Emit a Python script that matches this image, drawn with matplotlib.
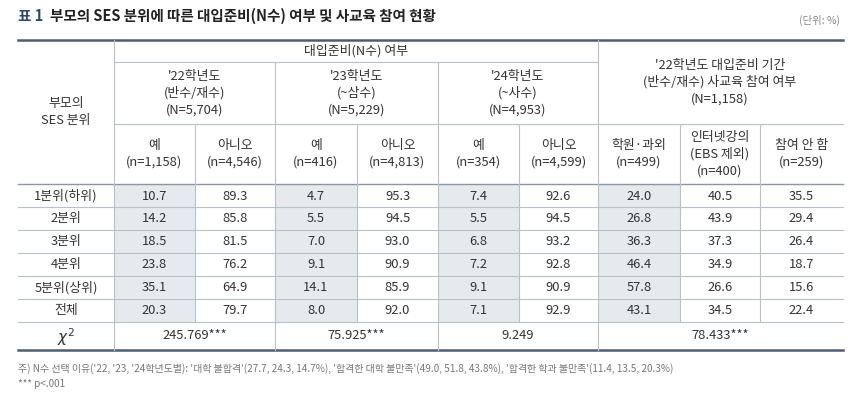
import matplotlib
matplotlib.use("Agg")
import matplotlib.pyplot as plt
from matplotlib.patches import Rectangle

plt.rcParams["font.family"] = ["Noto Sans CJK KR", "Noto Sans CJK JP", "Noto Sans CJK SC", "DejaVu Sans"]

row_labels = ["1분위(하위)", "2분위", "3분위", "4분위", "5분위(상위)", "전체"]
y22_yes = [10.7, 14.2, 18.5, 23.8, 35.1, 20.3]
y22_no = [89.3, 85.8, 81.5, 76.2, 64.9, 79.7]
y23_yes = [4.7, 5.5, 7.0, 9.1, 14.1, 8.0]
y23_no = [95.3, 94.5, 93.0, 90.9, 85.9, 92.0]
y24_yes = [7.4, 5.5, 6.8, 7.2, 9.1, 7.1]
y24_no = [92.6, 94.5, 93.2, 92.8, 90.9, 92.9]
academy = [24.0, 26.8, 36.3, 46.4, 57.8, 43.1]
internet = [40.5, 43.9, 37.3, 34.9, 26.6, 34.5]
none_ = [35.5, 29.4, 26.4, 18.7, 15.6, 22.4]
chi2 = ["245.769***", "75.925***", "9.249", "78.433***"]
sub_headers = ["예\n(n=1,158)", "아니오\n(n=4,546)", "예\n(n=416)", "아니오\n(n=4,813)",
               "예\n(n=354)", "아니오\n(n=4,599)", "학원·과외\n(n=499)",
               "인터넷강의\n(EBS 제외)\n(n=400)", "참여 안 함\n(n=259)"]
year_headers = ["'22학년도\n(반수/재수)\n(N=5,704)", "'23학년도\n(~삼수)\n(N=5,229)",
                "'24학년도\n(~사수)\n(N=4,953)"]

fig = plt.figure(figsize=(8.6, 4.03), dpi=100)
ax = fig.add_axes([0, 0, 1, 1])
ax.set_xlim(0, 860); ax.set_ylim(403, 0); ax.axis("off")

xs = [18, 114, 195, 275, 357, 438, 519, 598, 680, 760, 843]
ys = [185, 207, 230, 253, 276, 299, 322, 349]
line_c = "#b8c0c8"; txt = "#333333"; fs = 9.3
shade = "#e6e9ee"

cols = [y22_yes, y22_no, y23_yes, y23_no, y24_yes, y24_no, academy, internet, none_]
for ci in [0, 2, 4, 6]:
    ax.add_patch(Rectangle((xs[ci+1], ys[0]), xs[ci+2]-xs[ci+1], ys[6]-ys[0], color=shade, lw=0, zorder=0))

ax.text(18, 16, "표 1", fontsize=10.5, fontweight="bold", color="#2d4a6a", va="center")
ax.text(50, 16, "부모의 SES 분위에 따른 대입준비(N수) 여부 및 사교육 참여 현황", fontsize=10.5,
        fontweight="bold", color="#222222", va="center")
ax.text(840, 20, "(단위: %)", fontsize=7.5, color="#888888", va="center", ha="right")

ax.plot([18, 843], [40, 40], color="#4d5e6e", lw=1.8)
ax.plot([18, 843], [350, 350], color="#4d5e6e", lw=1.8)
ax.plot([114, 598], [62, 62], color=line_c, lw=0.8)
ax.plot([114, 843], [124, 124], color=line_c, lw=0.8)
ax.plot([18, 843], [184, 184], color="#8a96a2", lw=1.0)
for y in ys[1:7]:
    ax.plot([18, 843], [y, y], color=line_c, lw=0.8)
ax.plot([114, 114], [40, 350], color=line_c, lw=0.8)
ax.plot([598, 598], [40, 350], color=line_c, lw=0.8)
for x in [275, 438]:
    ax.plot([x, x], [62, 350], color=line_c, lw=0.8)
for x in [195, 357, 519, 680, 760]:
    ax.plot([x, x], [124, 322], color=line_c, lw=0.8)

ax.text(356, 51, "대입준비(N수) 여부", fontsize=fs, ha="center", va="center", color=txt)
for i, h in enumerate(year_headers):
    cx = (xs[1+2*i] + xs[3+2*i]) / 2
    ax.text(cx, 93, h, fontsize=fs, ha="center", va="center", color=txt, linespacing=1.35)
ax.text(720, 82, "'22학년도 대입준비 기간\n(반수/재수) 사교육 참여 여부\n(N=1,158)", fontsize=fs,
        ha="center", va="center", color=txt, linespacing=1.35)
ax.text(66, 112, "부모의\nSES 분위", fontsize=fs, ha="center", va="center", color=txt, linespacing=1.35)
for i, h in enumerate(sub_headers):
    ax.text((xs[i+1]+xs[i+2])/2, 154, h, fontsize=fs, ha="center", va="center", color=txt, linespacing=1.35)

for r, lab in enumerate(row_labels):
    cy = (ys[r] + ys[r+1]) / 2
    ax.text(66, cy, lab, fontsize=fs, ha="center", va="center", color=txt)
    for ci, col in enumerate(cols):
        ax.text((xs[ci+1]+xs[ci+2])/2, cy, f"{col[r]:.1f}", fontsize=fs, ha="center", va="center", color=txt)
cy = (ys[6] + ys[7]) / 2
ax.text(66, cy + 2, r"$\chi^2$", fontsize=11, ha="center", va="center", color=txt)
for i, v in enumerate(chi2):
    cx = (xs[1+2*i] + xs[3+2*i]) / 2 if i < 3 else (598 + 843) / 2
    ax.text(cx, cy, v, fontsize=fs, ha="center", va="center", color=txt)

ax.text(18, 369, "주) N수 선택 이유('22, '23, '24학년도별): '대학 불합격'(27.7, 24.3, 14.7%), '합격한 대학 불만족'(49.0, 51.8, 43.8%), '합격한 학과 불만족'(11.4, 13.5, 20.3%)",
        fontsize=7.2, color="#777777", va="center")
ax.text(18, 384, "*** p<.001", fontsize=7.2, color="#777777", va="center")

fig.savefig("out.png", dpi=100)
